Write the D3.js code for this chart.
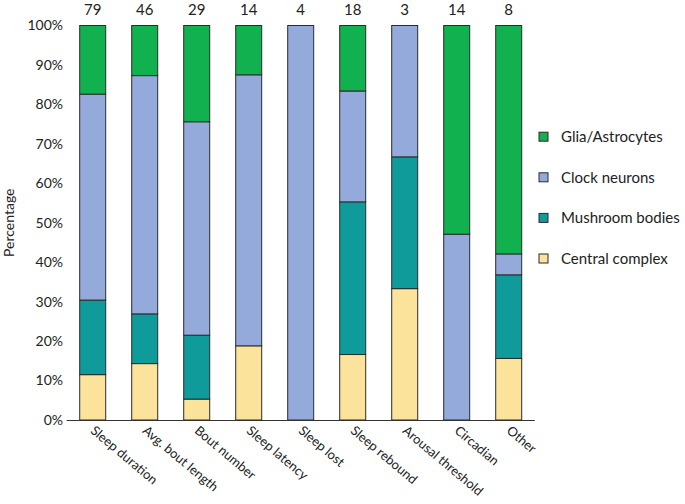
<!DOCTYPE html>
<html>
<head>
<meta charset="utf-8">
<script src="https://cdn.jsdelivr.net/npm/d3@7"></script>
<style>
  body { margin: 0; background: #fff; }
  text { font-family: Lato, "Open Sans", sans-serif; fill: #222; }
</style>
</head>
<body>
<div id="chart"></div>
<script>
// data (percent of each category)
var categories = ["Sleep duration", "Avg. bout length", "Bout number", "Sleep latency",
  "Sleep lost", "Sleep rebound", "Arousal threshold", "Circadian", "Other"];
var counts = [79, 46, 29, 14, 4, 18, 3, 14, 8];
var centralComplex = [11.5, 14.3, 5.3, 18.8, 0, 16.6, 33.3, 0, 15.6];
var mushroomBodies = [18.9, 12.6, 16.2, 0, 0, 38.7, 33.4, 0, 21.2];
var clockNeurons = [52.2, 60.4, 54.1, 68.7, 100, 28.1, 33.3, 47.1, 5.3];
var glia = [17.4, 12.7, 24.4, 12.5, 0, 16.6, 0, 52.9, 57.9];
var seriesNames = ["Central complex", "Mushroom bodies", "Clock neurons", "Glia/Astrocytes"];
var seriesColors = ["#fbe39b", "#109b9b", "#93aadb", "#12b14f"];
var yTicks = [0, 10, 20, 30, 40, 50, 60, 70, 80, 90, 100];

var width = 685, height = 504;
var svg = d3.select("#chart").append("svg")
  .attr("width", width)
  .attr("height", height);

var x = d3.scaleBand()
  .domain(categories)
  .range([66.7, 534.7])
  .paddingInner(0.5)
  .paddingOuter(0.25);

var y = d3.scaleLinear()
  .domain([0, 100])
  .range([420, 25.5]);

var rows = categories.map(function(c, i) {
  return {
    cat: c,
    "Central complex": centralComplex[i],
    "Mushroom bodies": mushroomBodies[i],
    "Clock neurons": clockNeurons[i],
    "Glia/Astrocytes": glia[i]
  };
});

var stack = d3.stack().keys(seriesNames);
var layers = stack(rows);

svg.selectAll("g.layer")
  .data(layers)
  .enter().append("g")
    .attr("class", "layer")
    .attr("fill", function(d, i) { return seriesColors[i]; })
  .selectAll("rect")
    .data(function(d) { return d.filter(function(p) { return p[1] - p[0] > 0; }); })
  .enter().append("rect")
    .attr("x", function(d) { return x(d.data.cat); })
    .attr("width", x.bandwidth())
    .attr("y", function(d) { return y(d[1]); })
    .attr("height", function(d) { return y(d[0]) - y(d[1]); })
    .attr("stroke", "#2b2b2b")
    .attr("stroke-width", 1);

// y tick labels (no axis line)
svg.selectAll("text.ytick")
  .data(yTicks)
  .enter().append("text")
    .attr("class", "ytick")
    .attr("x", 63)
    .attr("y", function(d) { return y(d); })
    .attr("dy", "0.35em")
    .attr("text-anchor", "end")
    .attr("font-size", 14)
    .text(function(d) { return d + "%"; });

// baseline
svg.append("line")
  .attr("x1", 66.7).attr("x2", 534.7)
  .attr("y1", 420.5).attr("y2", 420.5)
  .attr("stroke", "#333")
  .attr("stroke-width", 1.2);

// y axis title
svg.append("text")
  .attr("transform", "translate(14," + y(50) + ") rotate(-90)")
  .attr("text-anchor", "middle")
  .attr("font-size", 14)
  .text("Percentage");

// counts on top
svg.selectAll("text.count")
  .data(categories)
  .enter().append("text")
    .attr("class", "count")
    .attr("x", function(d) { return x(d) + x.bandwidth() / 2; })
    .attr("y", 15)
    .attr("text-anchor", "middle")
    .attr("font-size", 15)
    .text(function(d, i) { return counts[i]; });

// category labels
svg.selectAll("text.xlab")
  .data(categories)
  .enter().append("text")
    .attr("class", "xlab")
    .attr("transform", function(d) {
      return "translate(" + (x(d) + x.bandwidth() / 2 - 3) + ",432) rotate(40)";
    })
    .attr("font-size", 13)
    .text(function(d) { return d; });

// legend
var legendOrder = ["Glia/Astrocytes", "Clock neurons", "Mushroom bodies", "Central complex"];
var legend = svg.selectAll("g.legend")
  .data(legendOrder)
  .enter().append("g")
    .attr("class", "legend")
    .attr("transform", function(d, i) { return "translate(539," + (136.7 + i * 40.6) + ")"; });

legend.append("rect")
  .attr("x", 0).attr("y", -4.5)
  .attr("width", 9).attr("height", 9)
  .attr("fill", function(d) { return seriesColors[seriesNames.indexOf(d)]; })
  .attr("stroke", "#2b2b2b");

legend.append("text")
  .attr("x", 22)
  .attr("dy", "0.35em")
  .attr("font-size", 15)
  .text(function(d) { return d; });
</script>
</body>
</html>
